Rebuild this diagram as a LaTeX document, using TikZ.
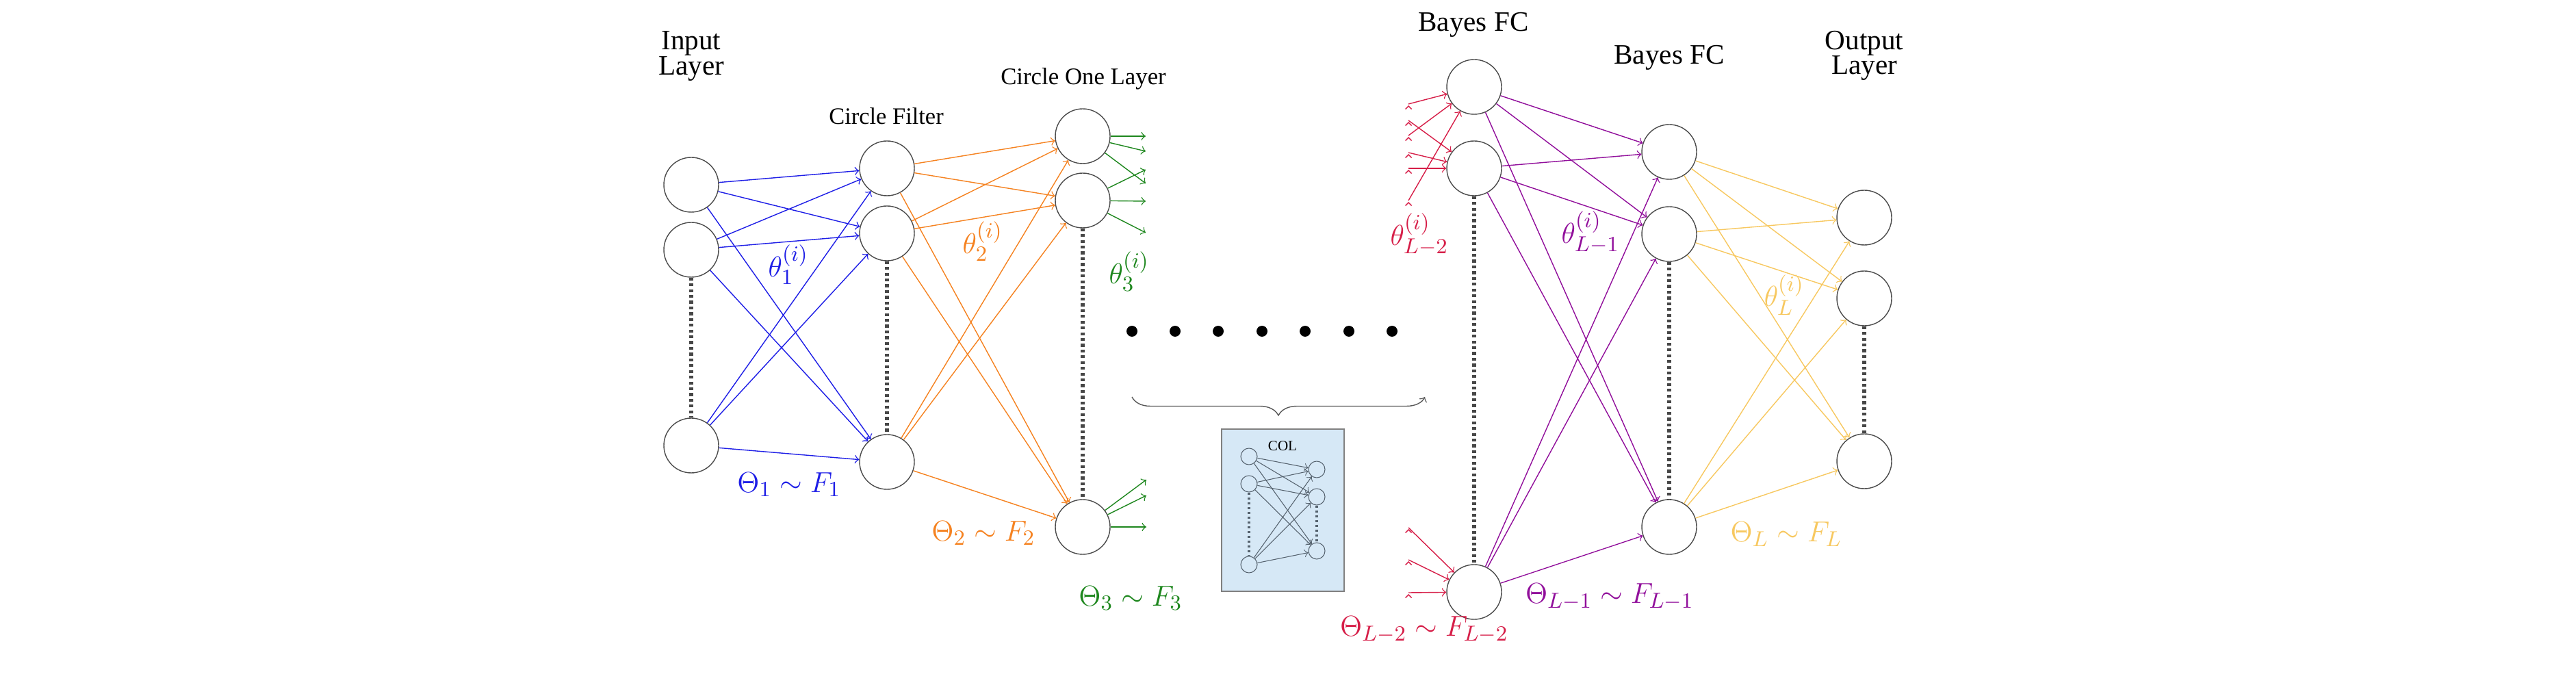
\documentclass[tikz,border=0pt]{standalone}
\usepackage[no-math]{fontspec}
\setmainfont{Liberation Serif}
\usetikzlibrary{calc,decorations.pathreplacing}
\definecolor{layerblue}{RGB}{30,30,230}
\definecolor{layerorange}{RGB}{245,130,32}
\definecolor{layergreen}{RGB}{30,135,30}
\definecolor{layercrimson}{RGB}{214,30,72}
\definecolor{layerpurple}{RGB}{145,15,155}
\definecolor{layeryellow}{RGB}{247,200,96}
\definecolor{colfill}{RGB}{214,232,246}
\definecolor{colwire}{RGB}{85,98,110}
\tikzset{
  neuron/.style={circle, draw=black!70, line width=0.4pt, minimum size=0.8cm, inner sep=0pt},
  smallneuron/.style={circle, draw=colwire, line width=0.3pt, minimum size=0.24cm, inner sep=0pt},
  layerdots/.style={draw=black!72, line width=1.5pt, dash pattern=on 1.2pt off 1.2pt},
  smalldots/.style={draw=colwire, line width=1.1pt, dash pattern=on 1pt off 1pt},
  wire/.style={->, line width=0.4pt},
  bluewire/.style={wire, draw=layerblue},
  orangewire/.style={wire, draw=layerorange},
  greenwire/.style={wire, draw=layergreen},
  crimsonwire/.style={wire, draw=layercrimson},
  purplewire/.style={wire, draw=layerpurple},
  yellowwire/.style={wire, draw=layeryellow},
  smallwire/.style={->, line width=0.3pt, draw=colwire},
  layertitle/.style={font=\fontsize{11.7}{10.5}\selectfont, align=center},
  mathlabel/.style={font=\fontsize{12.5}{14}\selectfont}
}
\def\tailmark(#1){\draw[layercrimson, line width=0.4pt] ($(#1)+(-0.045,-0.075)$) -- ++(0.045,0.045) -- ++(0.045,-0.045);}

\begin{document}
\begin{tikzpicture}
			%%%%% START %%%%%
			\useasboundingbox (0,0) rectangle (37.64,10.16);
			
			\node[neuron] (in1) at (10.10, 7.46) {};
			\node[neuron] (in2) at (10.10, 6.51) {};
			\node[neuron] (in3) at (10.10, 3.65) {};
			\draw[layerdots] (in2.south) -- (in3.north);
			\node[layertitle] (intitle) at (10.10, 9.34) {Input\\Layer};
			
			\node[neuron] (cf1) at (12.96, 7.70) {};
			\node[neuron] (cf2) at (12.96, 6.75) {};
			\node[neuron] (cf3) at (12.96, 3.41) {};
			\draw[layerdots] (cf2.south) -- (cf3.north);
			\node[layertitle, font=\fontsize{9.8}{11}\selectfont] (cftitle) at (12.95, 8.46) {Circle Filter};
			
			\node[neuron] (col1) at (15.82, 8.17) {};
			\node[neuron] (col2) at (15.82, 7.23) {};
			\node[neuron] (col3) at (15.82, 2.46) {};
			\draw[layerdots] (col2.south) -- (col3.north);
			\node[layertitle, font=\fontsize{9.9}{11}\selectfont] (coltitle) at (15.83, 9.01) {Circle One Layer};
			
			\node[neuron] (bf1) at (21.54, 8.89) {};
			\node[neuron] (bf2) at (21.54, 7.70) {};
			\node[neuron] (bf3) at (21.54, 1.51) {};
			\draw[layerdots] (bf2.south) -- (bf3.north);
			\node[layertitle] (bftitle) at (21.53, 9.80) {Bayes FC};
			
			\node[neuron] (bg1) at (24.39, 7.94) {};
			\node[neuron] (bg2) at (24.39, 6.74) {};
			\node[neuron] (bg3) at (24.39, 2.46) {};
			\draw[layerdots] (bg2.south) -- (bg3.north);
			\node[layertitle] (bgtitle) at (24.39, 9.32) {Bayes FC};
			
			\node[neuron] (out1) at (27.24, 6.98) {};
			\node[neuron] (out2) at (27.24, 5.80) {};
			\node[neuron] (out3) at (27.24, 3.42) {};
			\draw[layerdots] (out2.south) -- (out3.north);
			\node[layertitle, font=\fontsize{11.7}{10.2}\selectfont] (outtitle) at (27.24, 9.35) {Output\\Layer};
			
			% input -> circle filter
			\draw[bluewire] (in1) -- (cf1);
			\draw[bluewire] (in1) -- (cf2);
			\draw[bluewire] (in1) -- (cf3);
			\draw[bluewire] (in2) -- (cf1);
			\draw[bluewire] (in2) -- (cf2);
			\draw[bluewire] (in2) -- (cf3);
			\draw[bluewire] (in3) -- (cf1);
			\draw[bluewire] (in3) -- (cf2);
			\draw[bluewire] (in3) -- (cf3);
			\node[mathlabel, text=layerblue] (th1) at (11.52, 6.29) {$\theta_1^{(i)}$};
			\node[mathlabel, text=layerblue] (dist1) at (11.53, 3.08) {$\Theta_1\sim F_1$};
			
			% circle filter -> circle one layer
			\draw[orangewire] (cf1) -- (col1);
			\draw[orangewire] (cf1) -- (col2);
			\draw[orangewire] (cf1) -- (col3);
			\draw[orangewire] (cf2) -- (col1);
			\draw[orangewire] (cf2) -- (col2);
			\draw[orangewire] (cf2) -- (col3);
			\draw[orangewire] (cf3) -- (col1);
			\draw[orangewire] (cf3) -- (col2);
			\draw[orangewire] (cf3) -- (col3);
			\node[mathlabel, text=layerorange] (th2) at (14.36, 6.63) {$\theta_2^{(i)}$};
			\node[mathlabel, text=layerorange] (dist2) at (14.37, 2.37) {$\Theta_2\sim F_2$};
			
			% circle one layer -> open ends
			\coordinate (g1) at (16.74, 8.17);
			\coordinate (g2) at (16.74, 7.95);
			\coordinate (g3) at (16.74, 7.48);
			\coordinate (g4) at (16.74, 7.68);
			\coordinate (g5) at (16.74, 7.22);
			\coordinate (g6) at (16.74, 6.76);
			\coordinate (g7) at (16.75, 3.15);
			\coordinate (g8) at (16.75, 2.92);
			\coordinate (g9) at (16.75, 2.46);
			\draw[greenwire] (col1) -- (g1);
			\draw[greenwire] (col1) -- (g2);
			\draw[greenwire] (col1) -- (g3);
			\draw[greenwire] (col2) -- (g4);
			\draw[greenwire] (col2) -- (g5);
			\draw[greenwire] (col2) -- (g6);
			\draw[greenwire] (col3) -- (g7);
			\draw[greenwire] (col3) -- (g8);
			\draw[greenwire] (col3) -- (g9);
			\node[mathlabel, text=layergreen] (th3) at (16.50, 6.19) {$\theta_3^{(i)}$};
			\node[mathlabel, text=layergreen] (dist3) at (16.52, 1.42) {$\Theta_3\sim F_3$};
			
			\fill (16.54, 5.32) circle (0.08);
			\fill (17.17, 5.32) circle (0.08);
			\fill (17.80, 5.32) circle (0.08);
			\fill (18.44, 5.32) circle (0.08);
			\fill (19.07, 5.32) circle (0.08);
			\fill (19.71, 5.32) circle (0.08);
			\fill (20.34, 5.32) circle (0.08);
			
			\coordinate (brl) at (16.54, 4.36);
			\coordinate (brr) at (20.82, 4.36);
			\draw[->, draw=black!65, line width=0.4pt, decorate, decoration={brace, mirror, amplitude=0.27cm}] (brl) -- (brr);
			
			% the COL block
			\draw[draw=black!50, fill=colfill, line width=0.5pt] (17.85, 1.52) rectangle (19.64, 3.89);
			\node[font=\fontsize{6}{7}\selectfont] (coltag) at (18.74, 3.64) {COL};
			\node[smallneuron] (s1) at (18.25, 3.49) {};
			\node[smallneuron] (s2) at (18.25, 3.09) {};
			\node[smallneuron] (s3) at (18.25, 1.91) {};
			\node[smallneuron] (t1) at (19.24, 3.30) {};
			\node[smallneuron] (t2) at (19.24, 2.90) {};
			\node[smallneuron] (t3) at (19.24, 2.11) {};
			\draw[smalldots] (s2.south) -- (s3.north);
			\draw[smalldots] (t2.south) -- (t3.north);
			\draw[smallwire] (s1) -- (t1);
			\draw[smallwire] (s1) -- (t2);
			\draw[smallwire] (s1) -- (t3);
			\draw[smallwire] (s2) -- (t1);
			\draw[smallwire] (s2) -- (t2);
			\draw[smallwire] (s2) -- (t3);
			\draw[smallwire] (s3) -- (t1);
			\draw[smallwire] (s3) -- (t2);
			\draw[smallwire] (s3) -- (t3);
			
			% open ends -> first bayes layer
			\coordinate (r1) at (20.58, 8.64);
			\coordinate (r2) at (20.58, 8.18);
			\coordinate (r3) at (20.58, 7.23);
			\coordinate (r4) at (20.58, 8.40);
			\coordinate (r5) at (20.58, 7.93);
			\coordinate (r6) at (20.58, 7.70);
			\coordinate (r7) at (20.58, 2.45);
			\coordinate (r8) at (20.58, 1.98);
			\coordinate (r9) at (20.58, 1.50);
			\draw[crimsonwire] (r1) -- (bf1);
			\draw[crimsonwire] (r2) -- (bf1);
			\draw[crimsonwire] (r3) -- (bf1);
			\draw[crimsonwire] (r4) -- (bf2);
			\draw[crimsonwire] (r5) -- (bf2);
			\draw[crimsonwire] (r6) -- (bf2);
			\draw[crimsonwire] (r7) -- (bf3);
			\draw[crimsonwire] (r8) -- (bf3);
			\draw[crimsonwire] (r9) -- (bf3);
			\tailmark(r1) \tailmark(r2) \tailmark(r3)
			\tailmark(r4) \tailmark(r5) \tailmark(r6)
			\tailmark(r7) \tailmark(r8) \tailmark(r9)
			\node[mathlabel, text=layercrimson] (thL2) at (20.74, 6.73) {$\theta_{L-2}^{(i)}$};
			\node[mathlabel, text=layercrimson] (distL2) at (20.81, 0.96) {$\Theta_{L-2}\sim F_{L-2}$};
			
			% first bayes -> second bayes
			\draw[purplewire] (bf1) -- (bg1);
			\draw[purplewire] (bf1) -- (bg2);
			\draw[purplewire] (bf1) -- (bg3);
			\draw[purplewire] (bf2) -- (bg1);
			\draw[purplewire] (bf2) -- (bg2);
			\draw[purplewire] (bf2) -- (bg3);
			\draw[purplewire] (bf3) -- (bg1);
			\draw[purplewire] (bf3) -- (bg2);
			\draw[purplewire] (bf3) -- (bg3);
			\node[mathlabel, text=layerpurple] (thL1) at (23.24, 6.76) {$\theta_{L-1}^{(i)}$};
			\node[mathlabel, text=layerpurple] (distL1) at (23.52, 1.44) {$\Theta_{L-1}\sim F_{L-1}$};
			
			% second bayes -> output
			\draw[yellowwire] (bg1) -- (out1);
			\draw[yellowwire] (bg1) -- (out2);
			\draw[yellowwire] (bg1) -- (out3);
			\draw[yellowwire] (bg2) -- (out1);
			\draw[yellowwire] (bg2) -- (out2);
			\draw[yellowwire] (bg2) -- (out3);
			\draw[yellowwire] (bg3) -- (out1);
			\draw[yellowwire] (bg3) -- (out2);
			\draw[yellowwire] (bg3) -- (out3);
			\node[mathlabel, text=layeryellow] (thL) at (26.07, 5.85) {$\theta_L^{(i)}$};
			\node[mathlabel, text=layeryellow] (distL) at (26.10, 2.35) {$\Theta_L\sim F_L$};
			
			%%%%% END %%%%%
\end{tikzpicture}
\end{document}
